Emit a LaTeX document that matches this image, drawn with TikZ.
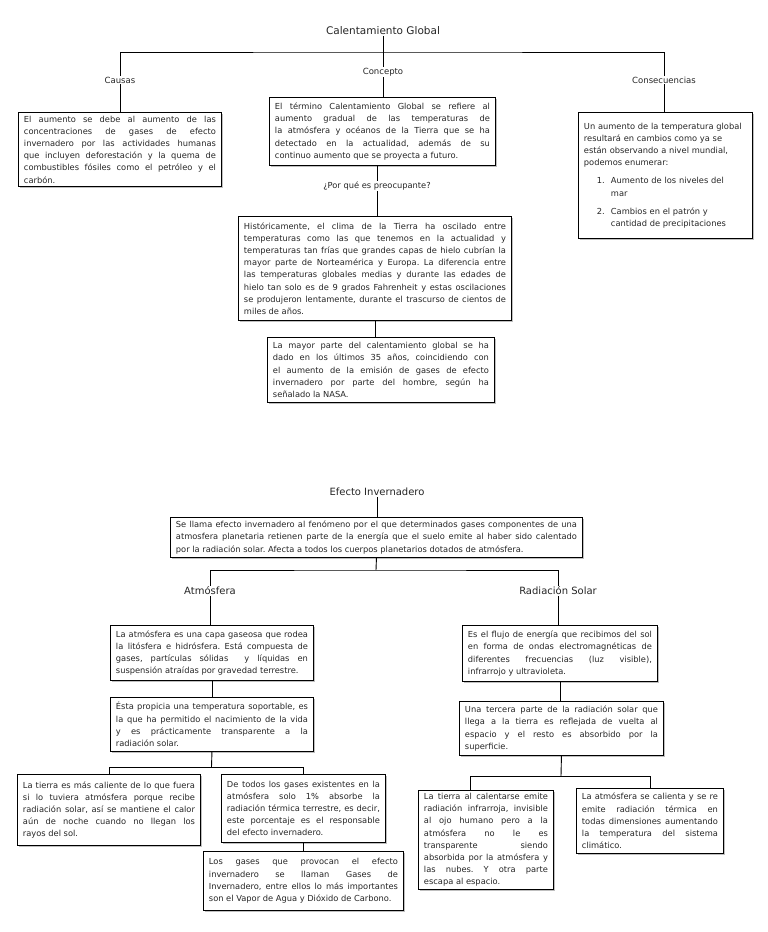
\documentclass[tikz,border=0pt]{standalone}
\usepackage{fontspec}
\setmainfont{DejaVu Sans}
\usetikzlibrary{shadows}
\frenchspacing
\begin{document}
\begin{tikzpicture}[x=1pt,y=-1pt,
  box/.style={draw, line width=0.9pt, fill=white, anchor=north west, inner xsep=5.5pt, inner ysep=2pt,
    align=justify, text=black!85, font=\fontsize{8.3}{12.2}\selectfont,
    drop shadow={shadow xshift=1.2pt, shadow yshift=-1.2pt, fill=black!50, opacity=0.5}},
  lbl/.style={inner sep=1pt, text=black!85, font=\fontsize{8.5}{10}\selectfont},
  ttl/.style={inner sep=1pt, text=black!85, font=\fontsize{10.5}{12}\selectfont},
  con/.style={line width=0.9pt}]
\useasboundingbox[fill=white] (0,0) rectangle (768,932);

% ---------------- top part ----------------
\node[ttl] (title1) at (383,31) {Calentamiento Global};
\node[lbl] (causas) at (120,80) {Causas};
\node[lbl] (concepto) at (383,72) {Concepto};
\node[lbl] (consec) at (664,80) {Consecuencias};
\node[lbl, font=\fontsize{8.3}{10}\selectfont] (porque) at (377,186) {¿Por qué es preocupante?};

\node[box, text width=192pt, minimum height=74pt] (causasbox) at (18,112)
{El aumento se debe al aumento de las\linebreak concentraciones de gases de efecto\linebreak invernadero por las actividades humanas\linebreak que incluyen deforestación y la quema de\linebreak combustibles fósiles como el petróleo y el\linebreak carbón.};

\node[box, text width=215pt, minimum height=68pt] (conbox) at (269,97)
{El término Calentamiento Global se refiere al\linebreak aumento gradual de las temperaturas de\linebreak la atmósfera y océanos de la Tierra que se ha\linebreak detectado en la actualidad, además de su\linebreak continuo aumento que se proyecta a futuro.};

\node[box, text width=262pt, minimum height=104pt] (histbox) at (238,216)
{Históricamente, el clima de la Tierra ha oscilado entre\linebreak temperaturas como las que tenemos en la actualidad y\linebreak temperaturas tan frías que grandes capas de hielo cubrían la\linebreak mayor parte de Norteamérica y Europa. La diferencia entre\linebreak las temperaturas globales medias y durante las edades de\linebreak hielo tan solo es de 9 grados Fahrenheit y estas oscilaciones\linebreak se produjeron lentamente, durante el trascurso de cientos de\linebreak miles de años.};

\node[box, text width=216pt, minimum height=65pt] (maybox) at (267,337)
{La mayor parte del calentamiento global se ha\linebreak dado en los últimos 35 años, coincidiendo con\linebreak el aumento de la emisión de gases de efecto\linebreak invernadero por parte del hombre, según ha\linebreak señalado la NASA.};

\node[box, align=left, text width=163pt, minimum height=126pt] (consbox) at (578,112)
{Un aumento de la temperatura global\\resultará en cambios como ya se\\están observando a nivel mundial,\\podemos enumerar:\\[6pt]
\makebox[27pt][l]{\hspace*{13pt}1.}Aumento de los niveles del\\\hspace*{27pt}mar\\[6pt]
\makebox[27pt][l]{\hspace*{13pt}2.}Cambios en el patrón y\\\hspace*{27pt}cantidad de precipitaciones};

\coordinate (b1) at (383,52);
\draw[con] (title1.south) -- (concepto.north);
\draw[con] (causas.north) |- (b1) -| (consec.north);
\draw[con] (causas.south) -- (causas.south |- causasbox.north);
\draw[con] (concepto.south) -- (concepto.south |- conbox.north);
\draw[con] (consec.south) -- (consec.south |- consbox.north);
\draw[con] (porque.north |- conbox.south) -- (porque.north);
\draw[con] (porque.south) -- (porque.south |- histbox.north);
\draw[con] (histbox.south) -- (histbox.south |- maybox.north);

% ---------------- bottom part ----------------
\node[ttl, font=\fontsize{10}{12}\selectfont] (title2) at (377,492) {Efecto Invernadero};
\node[ttl, font=\fontsize{10}{12}\selectfont] (atm) at (210,591) {Atmósfera};
\node[ttl, font=\fontsize{10}{12}\selectfont] (rad) at (558,591) {Radiación Solar};

\node[box, text width=401pt, minimum height=40pt] (efbox) at (170,517)
{Se llama efecto invernadero al fenómeno por el que determinados gases componentes de una\linebreak atmosfera planetaria retienen parte de la energía que el suelo emite al haber sido calentado\linebreak por la radiación solar. Afecta a todos los cuerpos planetarios dotados de atmósfera.};

\node[box, text width=192pt, minimum height=55pt] (a1box) at (110,625)
{La atmósfera es una capa gaseosa que rodea\linebreak la litósfera e hidrósfera. Está compuesta de\linebreak gases, partículas sólidas \ y líquidas en\linebreak suspensión atraídas por gravedad terrestre.};

\node[box, text width=192pt, minimum height=54pt] (a2box) at (110,697)
{Ésta propicia una temperatura soportable, es\linebreak la que ha permitido el nacimiento de la vida\linebreak y es prácticamente transparente a la\linebreak radiación solar.};

\node[box, text width=172pt, minimum height=71pt] (lbox) at (17,774)
{La tierra es más caliente de lo que fuera\linebreak si lo tuviera atmósfera porque recibe\linebreak radiación solar, así se mantiene el calor\linebreak aún de noche cuando no llegan los\linebreak rayos del sol.};

\node[box, text width=153pt, minimum height=68pt] (rbox) at (221,774)
{De todos los gases existentes en la\linebreak atmósfera solo 1\% absorbe la\linebreak radiación térmica terrestre, es decir,\linebreak este porcentaje es el responsable\linebreak del efecto invernadero.};

\node[box, text width=189pt, minimum height=59pt] (gasbox) at (203,851)
{Los gases que provocan el efecto\linebreak invernadero se llaman Gases de\linebreak Invernadero, entre ellos lo más importantes\linebreak son el Vapor de Agua y Dióxido de Carbono.};

\node[box, text width=184pt, minimum height=56pt] (r1box) at (462,625)
{Es el flujo de energía que recibimos del sol\linebreak en forma de ondas electromagnéticas de\linebreak diferentes frecuencias (luz visible),\linebreak infrarrojo y ultravioleta.};

\node[box, text width=193pt, minimum height=54pt] (r2box) at (459,701)
{Una tercera parte de la radiación solar que\linebreak llega a la tierra es reflejada de vuelta al\linebreak espacio y el resto es absorbido por la\linebreak superficie.};

\node[box, text width=124pt, minimum height=99pt] (t1box) at (418,790)
{La tierra al calentarse emite\linebreak radiación infrarroja, invisible\linebreak al ojo humano pero a la\linebreak atmósfera no le es\linebreak transparente siendo\linebreak absorbida por la atmósfera y\linebreak las nubes. Y otra parte\linebreak escapa al espacio.};

\node[box, text width=136pt, minimum height=65pt] (t2box) at (576,788)
{La atmósfera se calienta y se re\linebreak emite radiación térmica en\linebreak todas dimensiones aumentando\linebreak la temperatura del sistema\linebreak climático.};

\coordinate (b2) at (376,570);
\coordinate (b3) at (211.5,767);
\coordinate (b4) at (561,776);
\draw[con] (title2.south) -- (title2.south |- efbox.north);
\draw[con] (efbox.south) -- (b2);
\draw[con] (atm.north) |- (b2) -| (rad.north);
\draw[con] (atm.south) -- (atm.south |- a1box.north);
\draw[con] (a1box.south) -- (a1box.south |- a2box.north);
\draw[con] (a2box.south) -- (b3);
\draw[con] (lbox.north) |- (b3) -| (rbox.north);
\draw[con] (rbox.south) -- (rbox.south |- gasbox.north);
\draw[con] (rad.south) -- (rad.south |- r1box.north);
\draw[con] (r1box.south) -- (r1box.south |- r2box.north);
\draw[con] (r2box.south) -- (b4);
\draw[con] ([xshift=-16pt]t1box.north) |- (b4) -| (t2box.north);
\end{tikzpicture}
\end{document}
